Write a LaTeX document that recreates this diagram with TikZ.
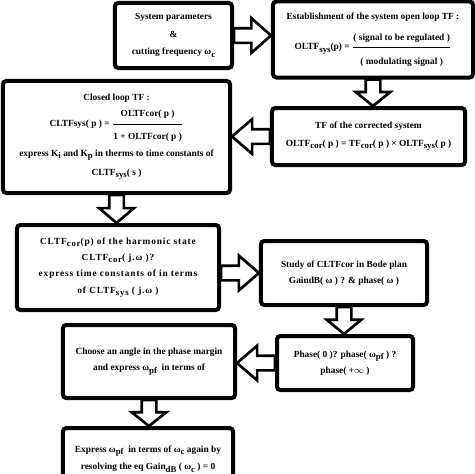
\documentclass[tikz,border=0pt]{standalone}
\usepackage{amsmath}
\usepackage{fontspec}
\setmainfont{Liberation Serif}
\usepackage{tikz}
\usetikzlibrary{calc}

\def\shaftw{0.22cm}
\def\headw{0.52cm}
\newcommand{\lowtxt}[1]{\raisebox{-2pt}{\fontsize{7.5}{8}\selectfont #1}}
\newcommand{\hollowarrow}[2]{%
   \path (#1) coordinate (ha-s) (#2) coordinate (ha-t);
   \path ($(ha-s)!0.47!(ha-t)$) coordinate (ha-h);
   \draw[arrowline] ($(ha-s)!\shaftw!90:(ha-t)$) -- ($(ha-h)!\shaftw!-90:(ha-s)$)
      -- ($(ha-h)!\headw!-90:(ha-s)$) -- (ha-t) -- ($(ha-h)!\headw!90:(ha-s)$)
      -- ($(ha-h)!\shaftw!90:(ha-s)$) -- ($(ha-s)!\shaftw!-90:(ha-t)$) -- cycle;
}

\begin{document}
\begin{tikzpicture}[x=0.03cm, y=-0.03cm,
   stepbox/.style={
      draw,
      line width = 0.12cm,
      rounded corners = 0.1cm,
      inner sep = 0pt,
      align = center,
      font = \bfseries\fontsize{8}{14}\selectfont
   },
   arrowline/.style={draw, line width = 0.08cm, line join = miter, fill = white}
   ]
   \useasboundingbox (0,0) rectangle (474,474);

   \node[stepbox, minimum width=3.51cm, minimum height=1.95cm] (par) at (173.5,35.5)
      {System parameters\\[1pt] \&\\[1pt] cutting frequency ω\lowtxt{c}};

   \node[stepbox, minimum width=6.0cm, minimum height=2.28cm] (olsys) at (373,39.5)
      {Establishment of the system open loop TF :\\[8pt]
       OLTF\lowtxt{sys}(p) = $\dfrac{\text{( signal to be regulated )}\rule[-5pt]{0pt}{12pt}}{\rule{0pt}{13pt}\text{( modulating signal )}}$};

   \node[stepbox, minimum width=6.81cm, minimum height=3.36cm] (clsys) at (116.5,137)
      {Closed loop TF :\\[5pt]
       CLTFsys( p ) = $\dfrac{\text{OLTFcor( p )}\rule[-5pt]{0pt}{11pt}}{\rule{0pt}{12pt}\text{1 + OLTFcor( p )}}$\\[6pt]
       express K\lowtxt{i} and K\lowtxt{p} in therms to time constants of\\[2pt]
       CLTF\lowtxt{sys}( s )};

   \node[stepbox, minimum width=5.79cm, minimum height=1.71cm] (corr) at (368.5,136.5)
      {TF of the corrected system\\[1pt]
       OLTF\lowtxt{cor}( p ) = TF\lowtxt{cor}( p ) × OLTF\lowtxt{sys}( p )};

   \node[stepbox, minimum width=6.06cm, minimum height=2.55cm] (harm) at (118,267.5)
      {\addfontfeatures{LetterSpace=9}CLTF\lowtxt{cor}(p) of the harmonic state\\
       \addfontfeatures{LetterSpace=9}CLTF\lowtxt{cor}( j.ω )?\\
       \addfontfeatures{LetterSpace=9}express time constants of in terms\\
       \addfontfeatures{LetterSpace=9}of CLTF\lowtxt{sys} ( j.ω )};

   \node[stepbox, minimum width=4.98cm, minimum height=1.92cm] (bode) at (344,273)
      {Study of CLTFcor in Bode plan\\
       GaindB( ω ) ? \& phase( ω )};

   \node[stepbox, minimum width=5.16cm, minimum height=2.19cm] (angle) at (149,361.5)
      {Choose an angle in the phase margin\\
       and express ω\lowtxt{pf}\ \ in terms of};

   \node[stepbox, minimum width=4.08cm, minimum height=1.62cm] (phase) at (345,363)
      {Phase( 0 )? phase( ω\lowtxt{pf} ) ?\\
       phase( +$\infty$ )};

   \node[stepbox, minimum width=5.1cm, minimum height=1.86cm] (gain) at (148,459)
      {Express ω\lowtxt{pf}\ \ in terms of ω\lowtxt{c} again by\\[1pt]
       resolving the eq Gain\lowtxt{dB} ( ω\lowtxt{c} ) = 0};

   \foreach \s/\t in {par.east/par.east -| olsys.west,
                      olsys.south/olsys.south |- corr.north,
                      corr.west/corr.west -| clsys.east,
                      clsys.south/clsys.south |- harm.north,
                      harm.east |- bode.west/bode.west,
                      bode.south/bode.south |- phase.north,
                      phase.west/phase.west -| angle.east,
                      angle.south/angle.south |- gain.north}
      {\hollowarrow{\s}{\t}}

\end{tikzpicture}
\end{document}
